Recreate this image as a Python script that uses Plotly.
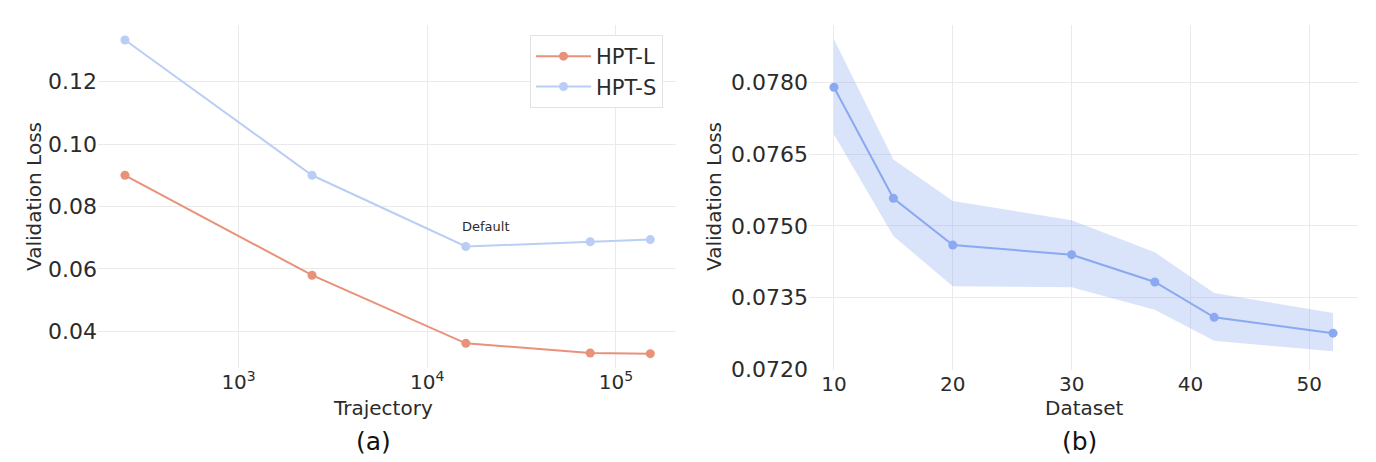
import math
import plotly.graph_objects as go

# ---- data (a) ----
traj = [250, 2450, 16000, 73000, 152000]
hpt_l = [0.0900, 0.0580, 0.0362, 0.0331, 0.0329]
hpt_s = [0.1333, 0.0900, 0.0672, 0.0687, 0.0694]
a_yticks = [0.04, 0.06, 0.08, 0.10, 0.12]
a_xticks = [1e3, 1e4, 1e5]
a_xticktext = ["10<sup>3</sup>", "10<sup>4</sup>", "10<sup>5</sup>"]

# ---- data (b) ----
datasets = [10, 15, 20, 30, 37, 42, 52]
loss_mean = [0.07790, 0.07558, 0.07460, 0.07440, 0.07383, 0.07309, 0.07276]
loss_upper = [0.07890, 0.07639, 0.07552, 0.07512, 0.07445, 0.07360, 0.07318]
loss_lower = [0.07691, 0.07479, 0.07374, 0.07372, 0.07325, 0.07260, 0.07238]
b_yticks = [0.0720, 0.0735, 0.0750, 0.0765, 0.0780]
b_xticks = [10, 20, 30, 40, 50]

FONT = "DejaVu Sans"
TXT = "#2b2b2b"
GRID = "#EAEAEA"
C_L = "#E8927A"
C_S = "#BACEF5"
C_B = "#8AA9F0"

W, H = 1376, 462
def px(x): return x / W
def py(y): return 1 - y / H

fig = go.Figure()

fig.add_trace(go.Scatter(x=traj, y=hpt_l, mode="lines+markers", name="HPT-L",
                         line=dict(color=C_L, width=2), marker=dict(color=C_L, size=9),
                         xaxis="x", yaxis="y"))
fig.add_trace(go.Scatter(x=traj, y=hpt_s, mode="lines+markers", name="HPT-S",
                         line=dict(color=C_S, width=2), marker=dict(color=C_S, size=9),
                         xaxis="x", yaxis="y"))

fig.add_trace(go.Scatter(x=datasets, y=loss_upper, mode="lines", line=dict(width=0),
                         showlegend=False, hoverinfo="skip", xaxis="x2", yaxis="y2"))
fig.add_trace(go.Scatter(x=datasets, y=loss_lower, mode="lines", line=dict(width=0),
                         fill="tonexty", fillcolor="rgba(138,169,240,0.32)",
                         showlegend=False, hoverinfo="skip", xaxis="x2", yaxis="y2"))
fig.add_trace(go.Scatter(x=datasets, y=loss_mean, mode="lines+markers", showlegend=False,
                         line=dict(color=C_B, width=2), marker=dict(color=C_B, size=9),
                         xaxis="x2", yaxis="y2"))

ax_common = dict(showgrid=True, gridcolor=GRID, gridwidth=1, zeroline=False, showline=False,
                 ticks="", automargin=False)
xfont = dict(family=FONT, size=20, color=TXT)
yfont = dict(family=FONT, size=22, color=TXT)

fig.update_layout(
    width=W, height=H,
    margin=dict(l=0, r=0, t=0, b=0),
    paper_bgcolor="white", plot_bgcolor="white",
    font=dict(family=FONT, color=TXT),
    xaxis=dict(type="log", domain=[px(98), px(676)], range=[2.255, 5.318],
               tickvals=a_xticks, ticktext=a_xticktext, anchor="y", tickfont=xfont, **ax_common),
    yaxis=dict(domain=[py(368), py(25)], range=[0.0283, 0.1381], tickvals=a_yticks,
               tickformat=".2f", anchor="x", tickfont=yfont, **ax_common),
    xaxis2=dict(domain=[px(809), px(1358)], range=[7.9, 54.1], tickvals=b_xticks,
                anchor="y2", tickfont=xfont, **ax_common),
    yaxis2=dict(domain=[py(370), py(25)], range=[0.07199, 0.07920], tickvals=b_yticks,
                tickformat=".4f", anchor="x2", tickfont=yfont, **ax_common),
    legend=dict(x=px(663), y=py(35), xanchor="right", yanchor="top",
                bgcolor="white", bordercolor="#E3E3E3", borderwidth=1,
                traceorder="normal", itemwidth=55,
                font=dict(family=FONT, size=21, color=TXT), tracegroupgap=0),
    showlegend=True,
)

ann = [
    dict(text="Validation Loss", x=px(34), y=py(197), textangle=-90, font=dict(size=20)),
    dict(text="Validation Loss", x=px(714), y=py(197), textangle=-90, font=dict(size=20)),
    dict(text="Trajectory", x=px(383), y=py(408), font=dict(size=20)),
    dict(text="Dataset", x=px(1084), y=py(408), font=dict(size=20)),
    dict(text="(a)", x=px(373), y=py(441), font=dict(size=25, color="#111111")),
    dict(text="(b)", x=px(1079), y=py(441), font=dict(size=25, color="#111111")),
]
for a in ann:
    fig.add_annotation(xref="paper", yref="paper", showarrow=False,
                       xanchor="center", yanchor="middle", **a)

fig.add_annotation(xref="x", yref="y", x=math.log10(traj[2]), y=hpt_s[2], text="Default",
                   showarrow=False, xanchor="left", yanchor="bottom", xshift=-6, yshift=10,
                   font=dict(family=FONT, size=13, color=TXT))

fig.write_html("out.html")
